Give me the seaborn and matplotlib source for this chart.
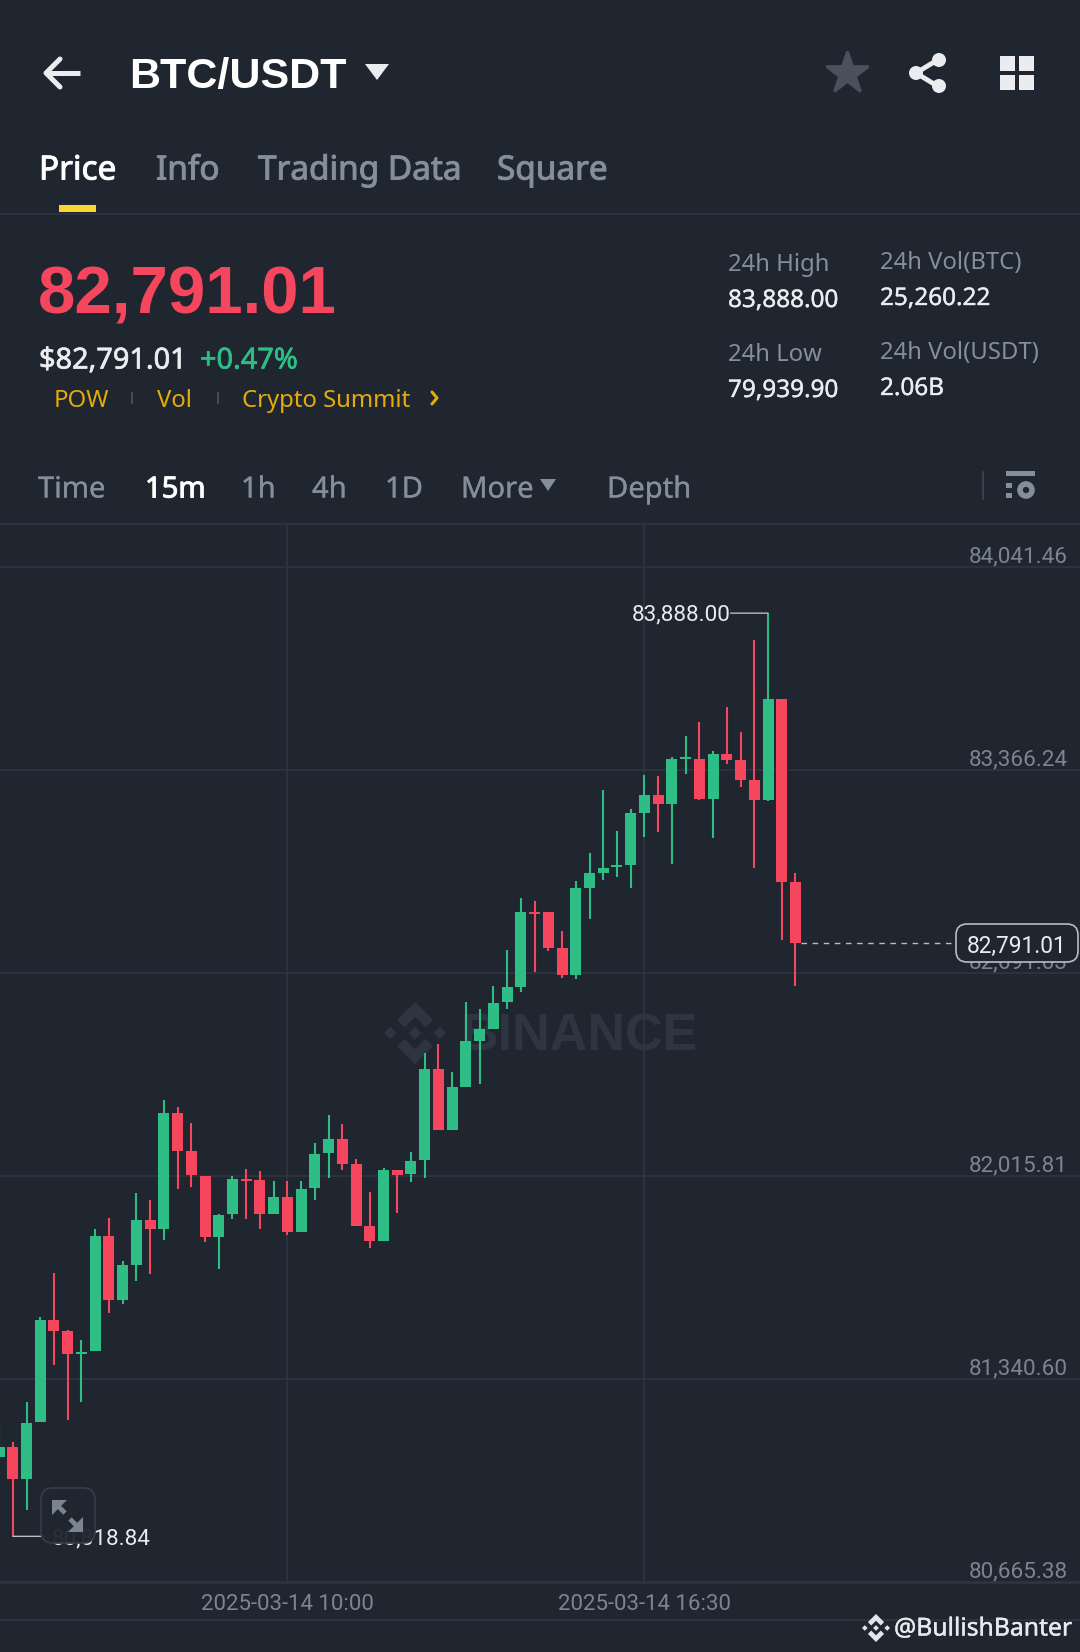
#!/usr/bin/env python3
"""BTC/USDT 15m candlestick screen, dark trading app layout."""

import numpy as np
import pandas as pd
import matplotlib.pyplot as plt
import matplotlib.patheffects as pe
import seaborn as sns
from matplotlib.patches import FancyBboxPatch, Polygon, Rectangle, Circle

# 15m candles, index 0 is the 2025-03-14 10:00 bar
candle_index = list(range(-21, 38))
opens = [81083, 81116, 81009, 81199, 81538, 81503, 81425, 81435, 81817, 81605,
         81722, 81872, 81841, 82226, 82100, 82018, 81814, 81889, 82007, 82003,
         81891, 81947, 81831, 81977, 82092, 82140, 82057, 81850, 81801, 82038,
         82023, 82070, 82371, 82171, 82314, 82467, 82505, 82594, 82644, 82895,
         82894, 82776, 82685, 82973, 83025, 83044, 83050, 83223, 83283, 83253,
         83403, 83403, 83271, 83421, 83399, 83333, 83267, 83602, 82995]
highs = [81196, 81132, 81264, 81548, 81694, 81504, 81471, 81839, 81877, 81734,
         81960, 81937, 82269, 82246, 82194, 82018, 81890, 82018, 82040, 82033,
         82000, 82000, 82000, 82126, 82218, 82191, 82073, 81965, 82043, 82038,
         82095, 82427, 82455, 82362, 82596, 82571, 82647, 82769, 82940, 82931,
         82894, 82831, 82998, 83091, 83300, 83165, 83237, 83349, 83347, 83410,
         83481, 83527, 83430, 83575, 83493, 83800, 83888, 83602, 83023]
lows = [81083, 80818.84, 80906, 81199, 81388, 81206, 81265, 81435, 81561, 81591,
        81668, 81691, 81804, 81974, 81980, 81799, 81709, 81874, 81875, 81842,
        81891, 81821, 81831, 81938, 82010, 82038, 81850, 81779, 81801, 81895,
        81998, 82009, 82171, 82171, 82314, 82321, 82505, 82571, 82630, 82694,
        82766, 82675, 82673, 82870, 83000, 83012, 82975, 83145, 83161, 83053,
        83352, 83267, 83139, 83386, 83311, 83042, 83264, 82800, 82647]
closes = [81116, 81009, 81196, 81538, 81503, 81425, 81432, 81817, 81605, 81721,
          81872, 81841, 82226, 82101, 82020, 81814, 81887, 82007, 82000, 81891,
          81947, 81831, 81974, 82090, 82140, 82057, 81850, 81801, 82038, 82021,
          82067, 82371, 82171, 82313, 82467, 82505, 82593, 82644, 82895, 82888,
          82776, 82685, 82973, 83023, 83042, 83050, 83223, 83283, 83253, 83402,
          83410, 83271, 83421, 83400, 83333, 83267, 83602, 82995, 82791.01]

price_ticks = [84041.46, 83366.24, 82691.03, 82015.81, 81340.60, 80665.38]
price_labels = ['84,041.46', '83,366.24', '82,691.03', '82,015.81', '81,340.60', '80,665.38']
time_ticks = [0, 26]
time_labels = ['2025-03-14 10:00', '2025-03-14 16:30']

last_price = 82791.01
high_bar, high_price = 35, 83888.00
low_bar, low_price = -20, 80818.84

stat_names = ['24h High', '24h Low', '24h Vol(BTC)', '24h Vol(USDT)']
stat_values = ['83,888.00', '79,939.90', '25,260.22', '2.06B']
tabs = ['Price', 'Info', 'Trading Data', 'Square']
intervals = ['Time', '15m', '1h', '4h', '1D', 'More', 'Depth']
promo_tags = ['POW', 'Vol', 'Crypto Summit']

BG = '#1F2630'
GRID = '#2E3540'
GREEN = '#2EBD85'
RED = '#F6465D'
WHITE = '#EAECEF'
MUTED = '#848E9C'
TICK = '#7C8491'
YELLOW = '#E3AC0B'
LEADER = '#B7BDC6'

sns.set_theme(style='dark', rc={
    'figure.facecolor': BG, 'axes.facecolor': BG, 'savefig.facecolor': BG,
    'axes.edgecolor': GRID, 'grid.color': GRID,
})
plt.rcParams['font.family'] = ['Noto Sans', 'DejaVu Sans']


def medium(color, width=0.7):
    # installed Noto Sans has no medium cut, thicken the outline a little
    return [pe.withStroke(linewidth=width, foreground=color)]


def binance_logo(target, cx, cy, r, color, zorder=1):
    """Diamond mark built from five small polygons, in the ui pixel frame."""
    for dx, dy in [(0, 0), (-0.8, 0), (0.8, 0)]:
        s = 0.2
        target.add_patch(Polygon([(cx + (dx - s) * r, cy + dy * r), (cx + dx * r, cy + (dy - s) * r),
                                  (cx + (dx + s) * r, cy + dy * r), (cx + dx * r, cy + (dy + s) * r)],
                                 fc=color, ec='none', zorder=zorder, transform=ui.transData))
    for sign in (-1, 1):
        pts = [(0, 1), (0.58, 0.42), (0.34, 0.18), (0, 0.52), (-0.34, 0.18), (-0.58, 0.42)]
        target.add_patch(Polygon([(cx + px * r, cy + sign * py * r) for px, py in pts],
                                 fc=color, ec='none', zorder=zorder, transform=ui.transData))


fig = plt.figure(figsize=(10.8, 16.52), dpi=100)
ax = fig.add_axes([0, (1652 - 1583) / 1652, 1, (1583 - 524) / 1652], zorder=1)
ui = fig.add_axes([0, 0, 1, 1], facecolor='none', zorder=3)
ui.set_xlim(0, 1080)
ui.set_ylim(1652, 0)
ui.axis('off')

# candles
df = pd.DataFrame({'bar': candle_index, 'open': opens, 'high': highs, 'low': lows, 'close': closes})
df['bottom'] = df[['open', 'close']].min(axis=1)
df['body'] = (df['close'] - df['open']).abs()
for rising, color in [(True, GREEN), (False, RED)]:
    sub = df[(df['close'] >= df['open']) == rising]
    ax.vlines(sub['bar'], sub['low'], sub['high'], color=color, lw=1.5, zorder=3)
    sns.barplot(data=sub, x='bar', y='body', bottom=sub['bottom'].values, native_scale=True,
                color=color, saturation=1, errorbar=None, ax=ax, zorder=3, linewidth=0)

ax.set_xlim(-20.93, 57.72)
ax.set_ylim(80663.7, 84184.4)
ax.set_xlabel('')
ax.set_ylabel('')
ax.set_yticks(price_ticks, price_labels, fontfamily='Roboto', fontsize=16.2, color=TICK, va='bottom')
ax.set_xticks(time_ticks, time_labels, fontfamily='Roboto', fontsize=16, color=TICK)
ax.yaxis.tick_right()
ax.tick_params(axis='y', length=0, pad=-80)
ax.tick_params(axis='x', length=0, pad=8)
ax.grid(True, color=GRID, lw=1.2)
ax.set_axisbelow(True)
for side in ('left', 'right'):
    ax.spines[side].set_visible(False)
for side in ('top', 'bottom'):
    ax.spines[side].set_color(GRID)
    ax.spines[side].set_linewidth(1.2)

# watermark under the candles
ax.text(460, 1037, 'BINANCE', transform=ui.transData, fontfamily='Liberation Sans', fontsize=37.5,
        fontweight='bold', color='#2E3540', va='center', ha='left', zorder=1)
binance_logo(ax, 415, 1033, 31, '#2E3540', zorder=1)

# extreme and last price markers
leader = dict(arrowstyle='-', color=LEADER, lw=1, shrinkA=0, shrinkB=0)
ax.annotate('', xy=(high_bar, high_price), xytext=(-27, 0), textcoords='offset points', arrowprops=leader, zorder=4)
ax.annotate(f'{high_price:,.2f}', xy=(high_bar, high_price), xytext=(-27, -1.5), textcoords='offset points',
            ha='right', va='center', fontfamily='Roboto', fontsize=16.2, color=WHITE, zorder=4)
ax.annotate('', xy=(low_bar, low_price), xytext=(24, 0), textcoords='offset points', arrowprops=leader, zorder=4)
ax.annotate(f'{low_price:,.2f}', xy=(low_bar, low_price), xytext=(28, -2), textcoords='offset points',
            ha='left', va='center', fontfamily='Roboto', fontsize=16.2, color=WHITE, zorder=4)
ax.plot([candle_index[-1] + 0.4, 48.7], [last_price, last_price], color=LEADER, lw=1, ls=(0, (4, 4)), zorder=2)

ui.add_patch(FancyBboxPatch((956, 924), 122, 38, boxstyle='round,pad=0,rounding_size=11',
                            fc=BG, ec=LEADER, lw=1.2, zorder=5))
ui.text(1017, 946, f'{last_price:,.2f}', fontfamily='Roboto', fontsize=16.4, color=WHITE,
        ha='center', va='center', zorder=6)

# fullscreen button covering part of the low label
ui.add_patch(FancyBboxPatch((41, 1488), 54, 55, boxstyle='round,pad=0,rounding_size=12',
                            fc=BG, ec='#363D49', lw=1.3, alpha=0.95, zorder=5))
ui.add_patch(Polygon([(52, 1500), (67, 1500), (52, 1515)], fc=TICK, ec='none', zorder=6))
ui.add_patch(Polygon([(83, 1532), (68, 1532), (83, 1517)], fc=TICK, ec='none', zorder=6))
ui.plot([58, 65], [1506, 1513], color=TICK, lw=3.4, solid_capstyle='butt', zorder=6)
ui.plot([70, 77], [1519, 1526], color=TICK, lw=3.4, solid_capstyle='butt', zorder=6)

# top bar
ui.plot([46, 80], [73, 73], color=WHITE, lw=3.6, solid_capstyle='butt')
ui.plot([60, 46, 60], [59, 73, 87], color=WHITE, lw=3.6)
ui.text(129, 77, 'BTC/USDT', fontfamily='Liberation Sans', fontsize=31, fontweight='bold', color='white', va='center')
ui.add_patch(Polygon([(365, 64), (389, 64), (377, 80)], fc=WHITE, ec='none'))
ui.plot([847], [73], marker='*', ms=32, color='#4A505C', mec='#4A505C', mew=2)
ui.plot([939, 916, 939], [59, 73, 87], color=WHITE, lw=3.5)
for cx, cy in [(939, 60), (916, 73), (939, 86)]:
    ui.add_patch(Circle((cx, cy), 7, fc=WHITE, ec='none'))
for gx in (1000, 1019):
    for gy in (56, 75):
        ui.add_patch(Rectangle((gx, gy), 15, 15, fc=WHITE, ec='none'))

# tabs
tab_x = [39, 156, 258, 497]
for i, (name, x) in enumerate(zip(tabs, tab_x)):
    col = 'white' if i == 0 else MUTED
    ui.text(x, 171, name, fontsize=24, color=col, va='center', path_effects=medium(col))
ui.add_patch(Rectangle((59, 205), 37, 7, fc='#FCD535', ec='none'))
ui.plot([0, 1080], [213.5, 213.5], color=GRID, lw=1.2)

# headline price block
ui.text(38, 297, f'{last_price:,.2f}', fontfamily='Liberation Sans', fontsize=48.3, fontweight='bold',
        color=RED, va='center')
ui.text(39, 361, f'${last_price:,.2f}', fontsize=20.8, color=WHITE, va='center', path_effects=medium(WHITE, 0.5))
ui.text(200, 361, '+0.47%', fontsize=20.8, color=GREEN, va='center', path_effects=medium(GREEN, 0.5))
for name, x in zip(promo_tags, [54, 157, 242]):
    ui.text(x, 401, name, fontsize=17.2, color=YELLOW, va='center')
for x in (132, 218):
    ui.plot([x, x], [393, 403], color='#474D57', lw=1.5)
ui.plot([432, 437, 432], [392, 398, 404], color=YELLOW, lw=2.2)

# 24h stats
for name, value, x, y1, y2 in zip(stat_names, stat_values, [728, 728, 880, 880],
                                  [265, 355, 263, 353], [301, 391, 299, 389]):
    ui.text(x, y1, name, fontsize=17.2, color=MUTED, va='center')
    ui.text(x, y2, value, fontsize=17.5, color=WHITE, va='center', path_effects=medium(WHITE, 0.25))

# interval bar
interval_x = [38, 145, 241, 312, 385, 461, 607]
for name, x in zip(intervals, interval_x):
    selected = name == '15m'
    col = 'white' if selected else MUTED
    ui.text(x, 490, name, fontsize=21, color=col, va='center', path_effects=medium(col, 0.7 if selected else 0.2))
ui.add_patch(Polygon([(540, 479), (556, 479), (548, 491)], fc=MUTED, ec='none'))
ui.plot([983, 983], [472, 499], color='#39404B', lw=1.5)
ui.add_patch(Rectangle((1006, 471), 29, 5, fc=MUTED, ec='none'))
ui.add_patch(Rectangle((1006, 483), 6, 5, fc=MUTED, ec='none'))
ui.add_patch(Rectangle((1006, 493), 6, 5, fc=MUTED, ec='none'))
ui.add_patch(Circle((1026, 490), 6, fc=BG, ec=MUTED, lw=4))

# footer
ui.plot([0, 1080], [1620, 1620], color=GRID, lw=1.2)
binance_logo(ui, 876, 1628, 14, '#E3E5E8', zorder=6)
ui.text(894, 1629, '@BullishBanter', fontsize=17.8, color='#E8EAED', va='center', zorder=6,
        path_effects=medium('#E8EAED', 0.3))

fig.savefig('out.png', dpi=100, facecolor=BG)
